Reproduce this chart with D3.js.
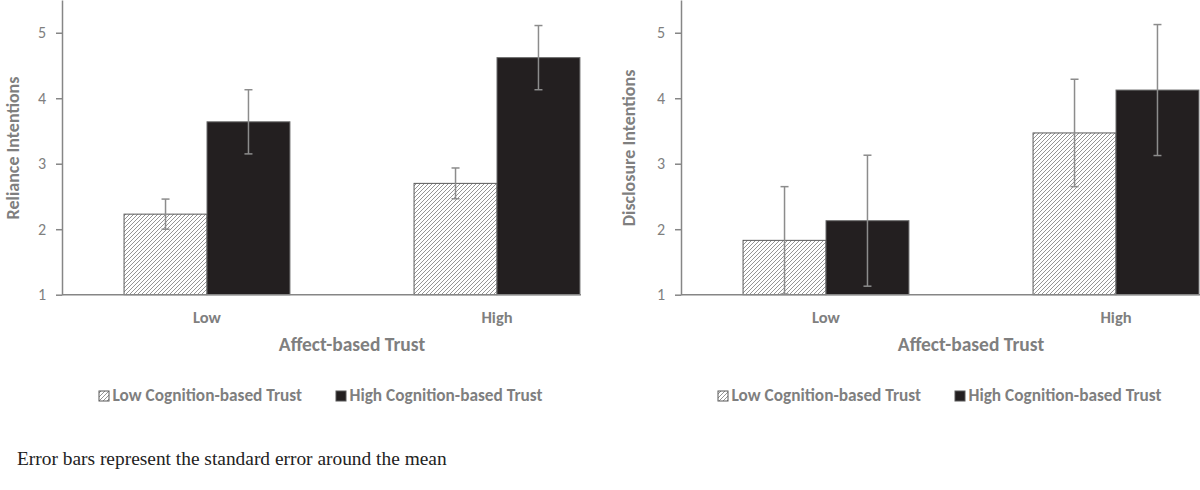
<!DOCTYPE html>
<html>
<head>
<meta charset="utf-8">
<script src="https://cdn.jsdelivr.net/npm/d3@7"></script>
<style>
  html, body { margin: 0; padding: 0; background: #ffffff; }
  svg { display: block; }
</style>
</head>
<body>
<svg id="chart" width="1200" height="490"></svg>
<script>
// ---- data ----
const groups = ["Low", "High"];
const seriesNames = ["Low Cognition-based Trust", "High Cognition-based Trust"];
const yTicks = [1, 2, 3, 4, 5];

const relianceLowCog = [2.23, 2.70];
const relianceHighCog = [3.64, 4.62];
const relianceLowCogSE = [0.23, 0.235];
const relianceHighCogSE = [0.49, 0.49];

const disclosureLowCog = [1.83, 3.47];
const disclosureHighCog = [2.13, 4.125];
const disclosureLowCogSE = [0.82, 0.82];
const disclosureHighCogSE = [1.0, 1.0];

const xTitle = "Affect-based Trust";
const footnote = "Error bars represent the standard error around the mean";

// ---- drawing ----
const FONT = "Carlito, Calibri, Lato, sans-serif";
const svg = d3.select("#chart");
const defs = svg.append("defs");
const pat = defs.append("pattern")
  .attr("id", "hatch").attr("patternUnits", "userSpaceOnUse")
  .attr("width", 4).attr("height", 4);
pat.append("rect").attr("width", 4).attr("height", 4).attr("fill", "#ffffff");
pat.append("path").attr("d", "M-1,1 l2,-2 M0,4 l4,-4 M3,5 l2,-2")
  .attr("stroke", "#7a7a7a").attr("stroke-width", 0.8);

const textGray = "#7f7f7f";
const axisGray = "#868686";

function drawPanel(left, clipRight, yTitle, lowVals, highVals, lowSE, highSE, titleX) {
  const g = svg.append("g");
  const y = d3.scaleLinear().domain([1, 5.5]).range([294.7, 0]);
  const x0 = d3.scaleBand().domain(groups).range([left, left + 580])
    .paddingInner(0.428).paddingOuter(0.214);
  const x1 = d3.scaleBand().domain(seriesNames).range([0, x0.bandwidth()]);

  const clipId = "clip" + left;
  defs.append("clipPath").attr("id", clipId)
    .append("rect").attr("x", 0).attr("y", 0).attr("width", clipRight).attr("height", 490);
  const cg = g.append("g").attr("clip-path", `url(#${clipId})`);

  const rows = [];
  groups.forEach((grp, i) => {
    rows.push({ grp, s: seriesNames[0], v: lowVals[i], se: lowSE[i] });
    rows.push({ grp, s: seriesNames[1], v: highVals[i], se: highSE[i] });
  });

  // bars
  cg.selectAll("rect.bar").data(rows).enter().append("rect")
    .attr("class", "bar")
    .attr("x", d => x0(d.grp) + x1(d.s))
    .attr("y", d => y(d.v))
    .attr("width", x1.bandwidth())
    .attr("height", d => y(1) - y(d.v))
    .attr("fill", d => d.s === seriesNames[0] ? "url(#hatch)" : "#231f20")
    .attr("stroke", d => d.s === seriesNames[0] ? "#595959" : "#6b6b6b")
    .attr("stroke-width", 1);

  // x axis baseline
  cg.append("line")
    .attr("x1", left).attr("x2", left + 580)
    .attr("y1", y(1)).attr("y2", y(1))
    .attr("stroke", axisGray).attr("stroke-width", 1.5);

  // error bars
  const eb = cg.selectAll("g.err").data(rows).enter().append("g").attr("class", "err");
  const cx = d => x0(d.grp) + x1(d.s) + x1.bandwidth() / 2;
  const lo = d => y(Math.max(1, d.v - d.se));
  const hi = d => y(d.v + d.se);
  eb.append("line")
    .attr("x1", cx).attr("x2", cx).attr("y1", hi).attr("y2", lo)
    .attr("stroke", "#8c8c8c").attr("stroke-width", 1.5);
  eb.append("line")
    .attr("x1", d => cx(d) - 4).attr("x2", d => cx(d) + 4).attr("y1", hi).attr("y2", hi)
    .attr("stroke", "#8c8c8c").attr("stroke-width", 1.5);
  eb.append("line")
    .attr("x1", d => cx(d) - 4).attr("x2", d => cx(d) + 4).attr("y1", lo).attr("y2", lo)
    .attr("stroke", "#8c8c8c").attr("stroke-width", 1.5);

  // y axis
  const ya = g.append("g").attr("transform", `translate(${left},0)`)
    .call(d3.axisLeft(y).tickValues(yTicks).tickFormat(d3.format("d"))
      .tickSizeOuter(0).tickSizeInner(6).tickPadding(10));
  ya.select(".domain").attr("stroke", axisGray).attr("stroke-width", 1.5);
  ya.selectAll(".tick line").attr("stroke", axisGray).attr("stroke-width", 1.5);
  ya.selectAll(".tick text").attr("fill", textGray)
    .attr("font-size", 16).attr("font-family", FONT);

  // category labels
  g.selectAll("text.cat").data(groups).enter().append("text")
    .attr("class", "cat")
    .attr("x", d => x0(d) + x0.bandwidth() / 2).attr("y", 322.5)
    .attr("text-anchor", "middle").attr("fill", textGray)
    .attr("font-family", FONT)
    .attr("font-size", 16.5).attr("font-weight", "bold")
    .text(d => d);

  // x title
  g.append("text")
    .attr("x", left + 290).attr("y", 351)
    .attr("text-anchor", "middle").attr("fill", textGray)
    .attr("font-family", FONT)
    .attr("font-size", 19.5).attr("font-weight", "bold")
    .text(xTitle);

  // y title
  g.append("text")
    .attr("transform", `translate(${titleX},148) rotate(-90)`)
    .attr("text-anchor", "middle").attr("fill", textGray)
    .attr("font-family", FONT)
    .attr("font-size", 18).attr("font-weight", "bold")
    .text(yTitle);

  // legend
  const lg = g.append("g");
  const legX = [left + 37, left + 274];
  seriesNames.forEach((s, i) => {
    lg.append("rect")
      .attr("x", legX[i]).attr("y", 391).attr("width", 10).attr("height", 10)
      .attr("fill", i === 0 ? "url(#hatch)" : "#231f20")
      .attr("stroke", "#595959").attr("stroke-width", 1);
    lg.append("text")
      .attr("x", legX[i] + 13.5).attr("y", 401)
      .attr("fill", textGray).attr("font-family", FONT)
      .attr("font-size", 17.3).attr("font-weight", "bold")
      .text(s);
  });
}

drawPanel(62, 581, "Reliance Intentions",
  relianceLowCog, relianceHighCog, relianceLowCogSE, relianceHighCogSE, 18.5);
drawPanel(681, 1200, "Disclosure Intentions",
  disclosureLowCog, disclosureHighCog, disclosureLowCogSE, disclosureHighCogSE, 634.5);

svg.append("text")
  .attr("x", 17).attr("y", 465)
  .attr("font-family", "'Liberation Serif', 'Times New Roman', serif")
  .attr("font-size", 19.4).attr("fill", "#222222")
  .text(footnote);
</script>
</body>
</html>
